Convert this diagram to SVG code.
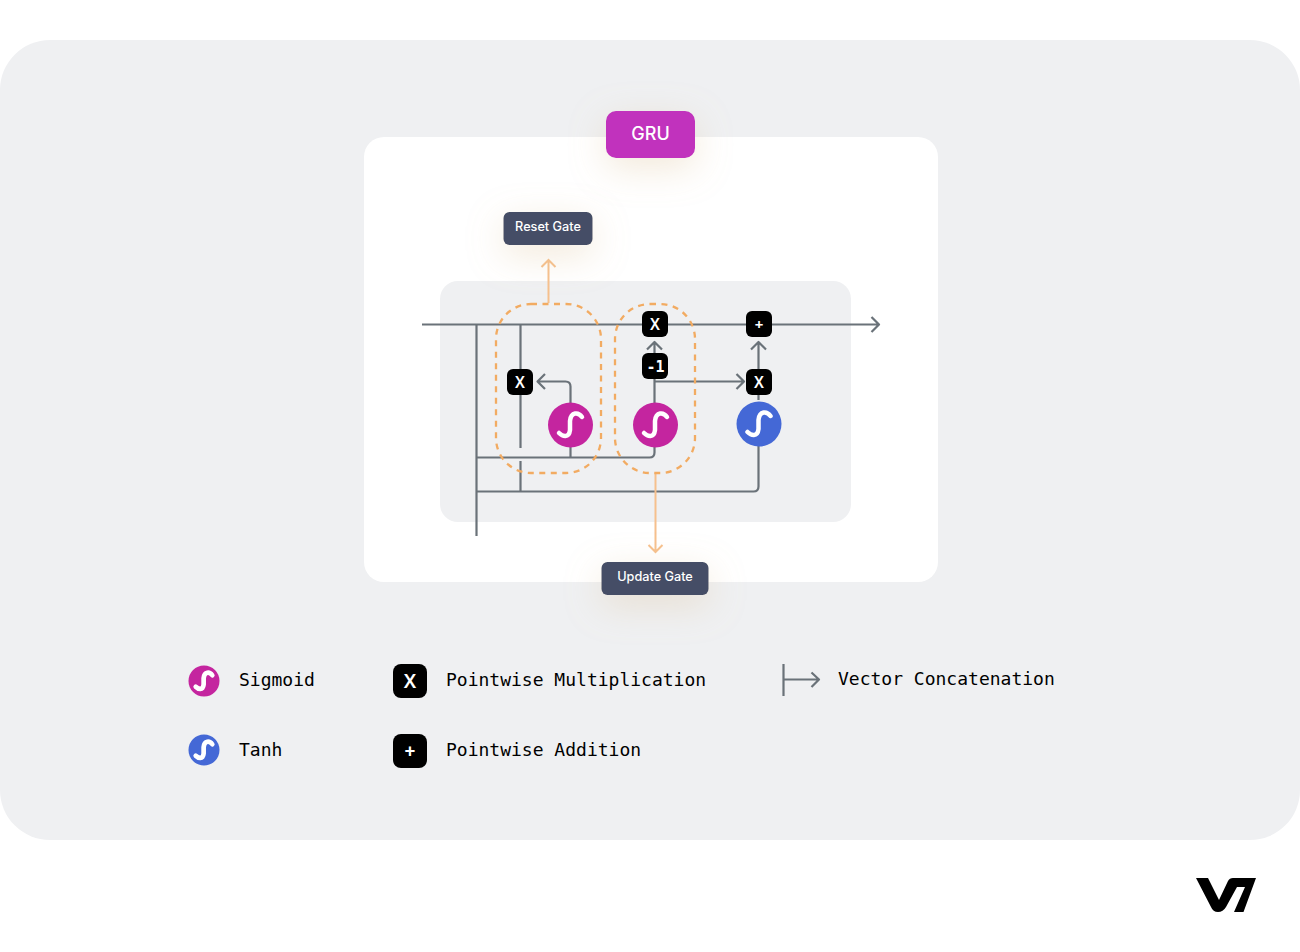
<svg xmlns="http://www.w3.org/2000/svg" width="1300" height="952" viewBox="0 0 1300 952">
<defs>
<style>
.w{fill:none;stroke:#6a7279;stroke-width:2.200;stroke-linecap:butt;stroke-linejoin:round}
.o{fill:none;stroke:#f6c08d;stroke-width:2}
.d{fill:none;stroke:#f2ab62;stroke-width:2.300;stroke-dasharray:6 5.500}
.mono{font-family:"DejaVu Sans Mono","Liberation Mono",monospace;font-size:18px;fill:#000}
.lab{font-family:Inter,"Liberation Sans",sans-serif;font-weight:500;fill:#fff;text-anchor:middle}
.op{font-family:"Noto Sans","Liberation Sans",sans-serif;font-weight:600;fill:#fff;text-anchor:middle}
.s{fill:none;stroke:#fff;stroke-linecap:round}
</style>
<filter id="sh" filterUnits="userSpaceOnUse" x="0" y="0" width="1300" height="952"><feDropShadow dx="0" dy="10" stdDeviation="18" flood-color="#d8b98a" flood-opacity="0.32"/></filter>
<path id="sig" d="M-11.500 8C-8 11.500 -1.500 13.500 -0.500 5V-4C0.500 -13.500 8 -13 11.500 -8"/>
</defs>
<rect width="1300" height="952" fill="#fff"/>
<rect id="panel" x="0" y="40" width="1300" height="800" rx="50" fill="#eff0f2"/>
<rect id="card" x="364" y="137" width="574" height="445" rx="20" fill="#fff"/>
<rect id="inner" x="440" y="281" width="411" height="241" rx="18" fill="#eff0f2"/>

<g id="connectors">
<path class="w" d="M422 324.500H878M871.500 317L879 324.500L871.500 332"/>
<path class="w" d="M476.500 324.500V536"/>
<path class="w" d="M520.500 324.500V448M520.500 461V491"/>
<path class="w" d="M476.500 457.500H649.500Q654.500 457.500 654.500 452.500V424"/>
<path class="w" d="M570.500 457V424"/>
<path class="w" d="M476.500 491.500H753.500Q758.500 491.500 758.500 486.500V424"/>
<path class="w" d="M570.500 424V386.500Q570.500 381.500 565.500 381.500H538M545 374L537.500 381.500L545 389"/>
<path class="w" d="M654.500 424V342M647 349.500L654.500 342L662 349.500"/>
<path class="w" d="M654.500 381.500H744M736.500 374L744 381.500L736.500 389"/>
<path class="w" d="M758.500 400V342M751 349.500L758.500 342L766 349.500"/>
<path class="o" d="M548.500 303V260M541.500 267L548.500 260L555.500 267"/>
<path class="o" d="M655.500 473V552M648.500 545L655.500 552L662.500 545"/>
<rect class="d" x="496" y="304" width="105" height="169" rx="35"/>
<rect class="d" x="615" y="304" width="80" height="169" rx="35"/>
</g>

<g id="node-gru"><rect x="606" y="111" width="89" height="47" rx="10" fill="#c131bd" filter="url(#sh)"/><text class="lab" x="650.500" y="140" font-size="18">GRU</text></g>
<g id="node-reset"><rect x="503.500" y="212" width="89" height="33" rx="6" fill="#444e66" filter="url(#sh)"/><text class="lab" x="548" y="231" font-size="12.700">Reset Gate</text></g>
<g id="node-update"><rect x="601.500" y="562" width="107" height="33" rx="6" fill="#444e66" filter="url(#sh)"/><text class="lab" x="655" y="581" font-size="12.700">Update Gate</text></g>

<g id="mul1"><rect x="507" y="369" width="26" height="26" rx="6"/><text class="op" x="520" y="388" font-size="15.500">X</text></g>
<g id="mul2"><rect x="642" y="311" width="26" height="26" rx="6"/><text class="op" x="655" y="329.500" font-size="15.500">X</text></g>
<g id="neg"><rect x="642" y="353" width="26" height="26" rx="6"/><text class="op" x="655.500" y="372" font-size="15" style="font-family:'DejaVu Sans Mono',monospace;font-weight:700">-1</text></g>
<g id="mul3"><rect x="746" y="369" width="26" height="26" rx="6"/><text class="op" x="759" y="388" font-size="15.500">X</text></g>
<g id="add"><rect x="746" y="311" width="26" height="26" rx="6"/><text class="op" x="759" y="330" font-size="15" style="font-weight:700">+</text></g>

<g id="sig1" transform="translate(570.500 425)"><circle r="22.500" fill="#c4259f"/><use href="#sig" class="s" stroke-width="4.500"/></g>
<g id="sig2" transform="translate(655.500 425)"><circle r="22.500" fill="#c4259f"/><use href="#sig" class="s" stroke-width="4.500"/></g>
<g id="tanh" transform="translate(759 424)"><circle r="22.500" fill="#4468d6"/><use href="#sig" class="s" stroke-width="4.500"/></g>

<g id="legend-sigmoid"><g transform="translate(204 681)"><circle r="15.500" fill="#c4259f"/><use href="#sig" class="s" stroke-width="6.500" transform="scale(.72)"/></g><text class="mono" x="239" y="686">Sigmoid</text></g>
<g id="legend-tanh"><g transform="translate(204 750)"><circle r="15.500" fill="#4468d6"/><use href="#sig" class="s" stroke-width="6.500" transform="scale(.72)"/></g><text class="mono" x="239" y="756">Tanh</text></g>
<g id="legend-mul"><rect x="393" y="664" width="34" height="34" rx="8"/><text class="op" x="410" y="688" font-size="19.500">X</text><text class="mono" x="446" y="686">Pointwise Multiplication</text></g>
<g id="legend-add"><rect x="393" y="734" width="34" height="34" rx="8"/><text class="op" x="410" y="758" font-size="19" style="font-weight:700">+</text><text class="mono" x="446" y="756">Pointwise Addition</text></g>
<g id="legend-concat"><path class="w" d="M783.500 664V696M783.500 679.500H818M811.500 672.500L819 679.500L811.500 687"/><text class="mono" x="838" y="685">Vector Concatenation</text></g>

<path id="logo" d="M1196 878H1208L1219 900L1228 881Q1229.500 878 1233 878H1256L1243.500 912H1234L1245 887H1237L1226 907Q1223 912 1218 912Q1213 912 1211 907Z" fill="#000"/>
</svg>
